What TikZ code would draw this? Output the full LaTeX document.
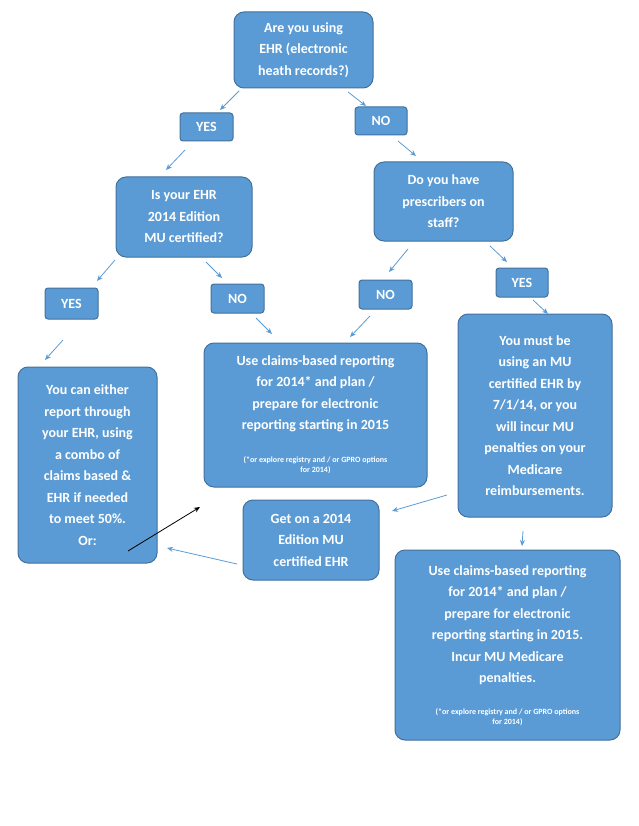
\documentclass[tikz,border=0pt]{standalone}
\usepackage{fontspec}
\setmainfont{Carlito}
\usetikzlibrary{arrows.meta}
\definecolor{boxfill}{HTML}{5B9BD5}
\definecolor{boxline}{HTML}{41719C}
\begin{document}
\begin{tikzpicture}[x=1pt,y=-1pt,
  box/.style={draw=boxline,line width=1pt,fill=boxfill,rounded corners=10pt,inner sep=0pt},
  lab/.style={draw=boxline,line width=1pt,fill=boxfill,rounded corners=3pt,inner sep=0pt},
  big/.style={text=white,font=\bfseries\fontsize{14}{21.5}\selectfont,align=center},
  lt/.style={text=white,font=\bfseries\fontsize{14}{16}\selectfont},
  small/.style={text=white,font=\bfseries\fontsize{8}{10}\selectfont,align=center},
  con/.style={draw=boxfill,line width=0.8pt,-{Stealth[length=6pt,width=5pt]}}]
\useasboundingbox (0,0) rectangle (638,826);
\newcommand\bx[6]{\node[#1,minimum width=#4-#2,minimum height=#5-#3] (#6) at ({(#2+#4)/2},{(#3+#5)/2}) {};}
\bx{box}{234}{12}{373}{88}{q1}
\node[big] at (q1) {Are you using\\EHR (electronic\\heath records?)};
\bx{lab}{180}{113}{233}{141}{y1} \node[lt] at (y1) {YES};
\bx{lab}{355}{107}{407}{135}{n1} \node[lt] at (n1) {NO};
\bx{box}{116}{177}{252}{257}{q2}
\node[big] at (q2) {Is your EHR\\2014 Edition\\MU certified?};
\bx{box}{374}{162}{513}{241}{q3}
\node[big] at (q3) {Do you have\\prescribers on\\staff?};
\bx{lab}{45}{288}{98}{319}{y2} \node[lt] at (y2) {YES};
\bx{lab}{211}{284}{264}{313}{n2} \node[lt] at (n2) {NO};
\bx{lab}{359}{280}{412}{309}{n3} \node[lt] at (n3) {NO};
\bx{lab}{496}{268}{548}{297}{y3} \node[lt] at (y3) {YES};
\bx{box}{18}{367}{157}{563}{a1}
\node[big] at (a1) {You can either\\report through\\your EHR, using\\a combo of\\claims based \&\\EHR if needed\\to meet 50\%.\\Or:};
\bx{box}{204}{343}{427}{487}{a2}
\node[big,anchor=north] (a2t) at (315.5,352) {Use claims-based reporting\\for 2014* and plan /\\prepare for electronic\\reporting starting in 2015};
\node[small,anchor=north] (a2s) at (315.5,453) {(*or explore registry and / or GPRO options\\for 2014)};
\bx{box}{458}{314}{612}{517}{a3}
\node[big] at (a3) {You must be\\using an MU\\certified EHR by\\7/1/14, or you\\will incur MU\\penalties on your\\Medicare\\reimbursements.};
\bx{box}{243}{500}{379}{580}{a4}
\node[big] at (a4) {Get on a 2014\\Edition MU\\certified EHR};
\bx{box}{395}{550}{620}{740}{a5}
\node[big,anchor=north] (a5t) at (507.5,562) {Use claims-based reporting\\for 2014* and plan /\\prepare for electronic\\reporting starting in 2015.\\Incur MU Medicare\\penalties.};
\node[small,anchor=north] (a5s) at (507.5,705) {(*or explore registry and / or GPRO options\\for 2014)};
\draw[con] (239,91) -- (220,110);
\draw[con] (348,92) -- (366,106);
\draw[con] (185,150) -- (166,170);
\draw[con] (398,141) -- (416,156);
\draw[con] (115,260) -- (97,281);
\draw[con] (206,262) -- (222,278);
\draw[con] (256,318) -- (272,334);
\draw[con] (408,249) -- (389,272);
\draw[con] (490,246) -- (507,262);
\draw[con] (370,316) -- (350,337);
\draw[con] (533,300) -- (548,314);
\draw[con] (63,340) -- (45,360);
\draw[con] (447,495) -- (392,511);
\draw[con] (523,531) -- (522,546);
\draw[con] (237,564) -- (167,548);
\draw[line width=0.8pt,-{Stealth[length=6pt,width=5pt]}] (128,551) -- (200,507);
\end{tikzpicture}
\end{document}
